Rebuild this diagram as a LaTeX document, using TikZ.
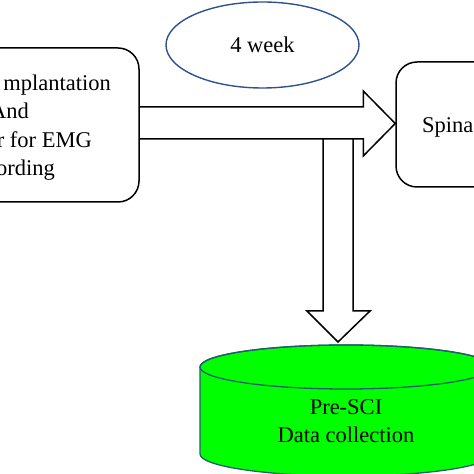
\documentclass[tikz,border=0pt]{standalone}
\usepackage{fontspec}
\setmainfont{Liberation Serif}
\usetikzlibrary{shapes.geometric,calc}
\definecolor{ellborder}{RGB}{47,82,143}
\definecolor{cylborder}{RGB}{35,95,105}
\definecolor{cylgreen}{RGB}{0,255,0}
\begin{document}
\begin{tikzpicture}[x=1pt,y=1pt,
  txt/.style={font=\fontsize{22.5}{28.5}\selectfont, inner sep=0pt},
  roundbox/.style={draw=black, line width=1.5pt, rounded corners=21pt, minimum width=#1, inner sep=0pt},
  blockarrow/.style={draw=black, line width=1.5pt, line join=miter},
  oval/.style={ellipse, draw=ellborder, line width=1.4pt, inner sep=0pt, minimum width=193pt, minimum height=86pt},
  cyl/.style={fill=cylgreen, draw=cylborder, line width=1.3pt}]
\clip (0,0) rectangle (474,474);
\useasboundingbox (0,0) rectangle (474,474);
% boxes
\node[roundbox=239pt, minimum height=154pt] (L) at (19.5,349) {};
\node[roundbox=204pt, minimum height=125pt] (R) at (498,349.5) {};
\node[oval, txt] (E) at (262.5,429) {4 week};
% left box text (cut off by the picture edge)
\node[txt, anchor=base east] (l1) at (111,383) {mplantation};
\node[txt, anchor=base east] (l2) at (29,355) {And};
\node[txt, anchor=base east] (l3) at (92,326) {r for EMG};
\node[txt, anchor=base east] (l4) at (55,298) {ording};
% right box text
\node[txt, anchor=base west] (r1) at (422,341) {Spina};
% cylinder
\path[cyl] (200,107) -- (200,20) arc[start angle=180,end angle=360,x radius=146,y radius=22]
  -- (492,107) arc[start angle=0,end angle=180,x radius=146,y radius=22] -- cycle;
\draw[draw=cylborder, line width=1.3pt] (346,107) ellipse [x radius=146, y radius=22];
\node[inner sep=0pt, minimum size=0pt] (C) at (346,60) {};
\node[txt, align=center] (ct) at (346,53) {Pre-SCI\\Data collection};
\coordinate (Ctop) at (338,132);
% horizontal block arrow
\coordinate (hs) at ($(L.east)+(0,2)$);
\coordinate (ht) at ($(R.west)+(0,1)$);
\coordinate (hb) at ($(ht)+(-32,0)$);
\draw[blockarrow] ($(hs)+(0,16)$) -- ($(hb |- hs)+(0,16)$) -- ($(hb)+(0,32.5)$) -- (ht)
  -- ($(hb)+(0,-32.5)$) -- ($(hb |- hs)+(0,-16)$) -- ($(hs)+(0,-16)$);
% vertical block arrow
\coordinate (vb) at ($(Ctop)+(0,31)$);
\draw[blockarrow] ($(Ctop |- hs)+(-15,-16)$) -- ($(vb)+(-15,0)$) -- ($(vb)+(-31,0)$) -- (Ctop)
  -- ($(vb)+(32,0)$) -- ($(vb)+(15,0)$) -- ($(Ctop |- hs)+(15,-16)$);
\end{tikzpicture}
\end{document}
